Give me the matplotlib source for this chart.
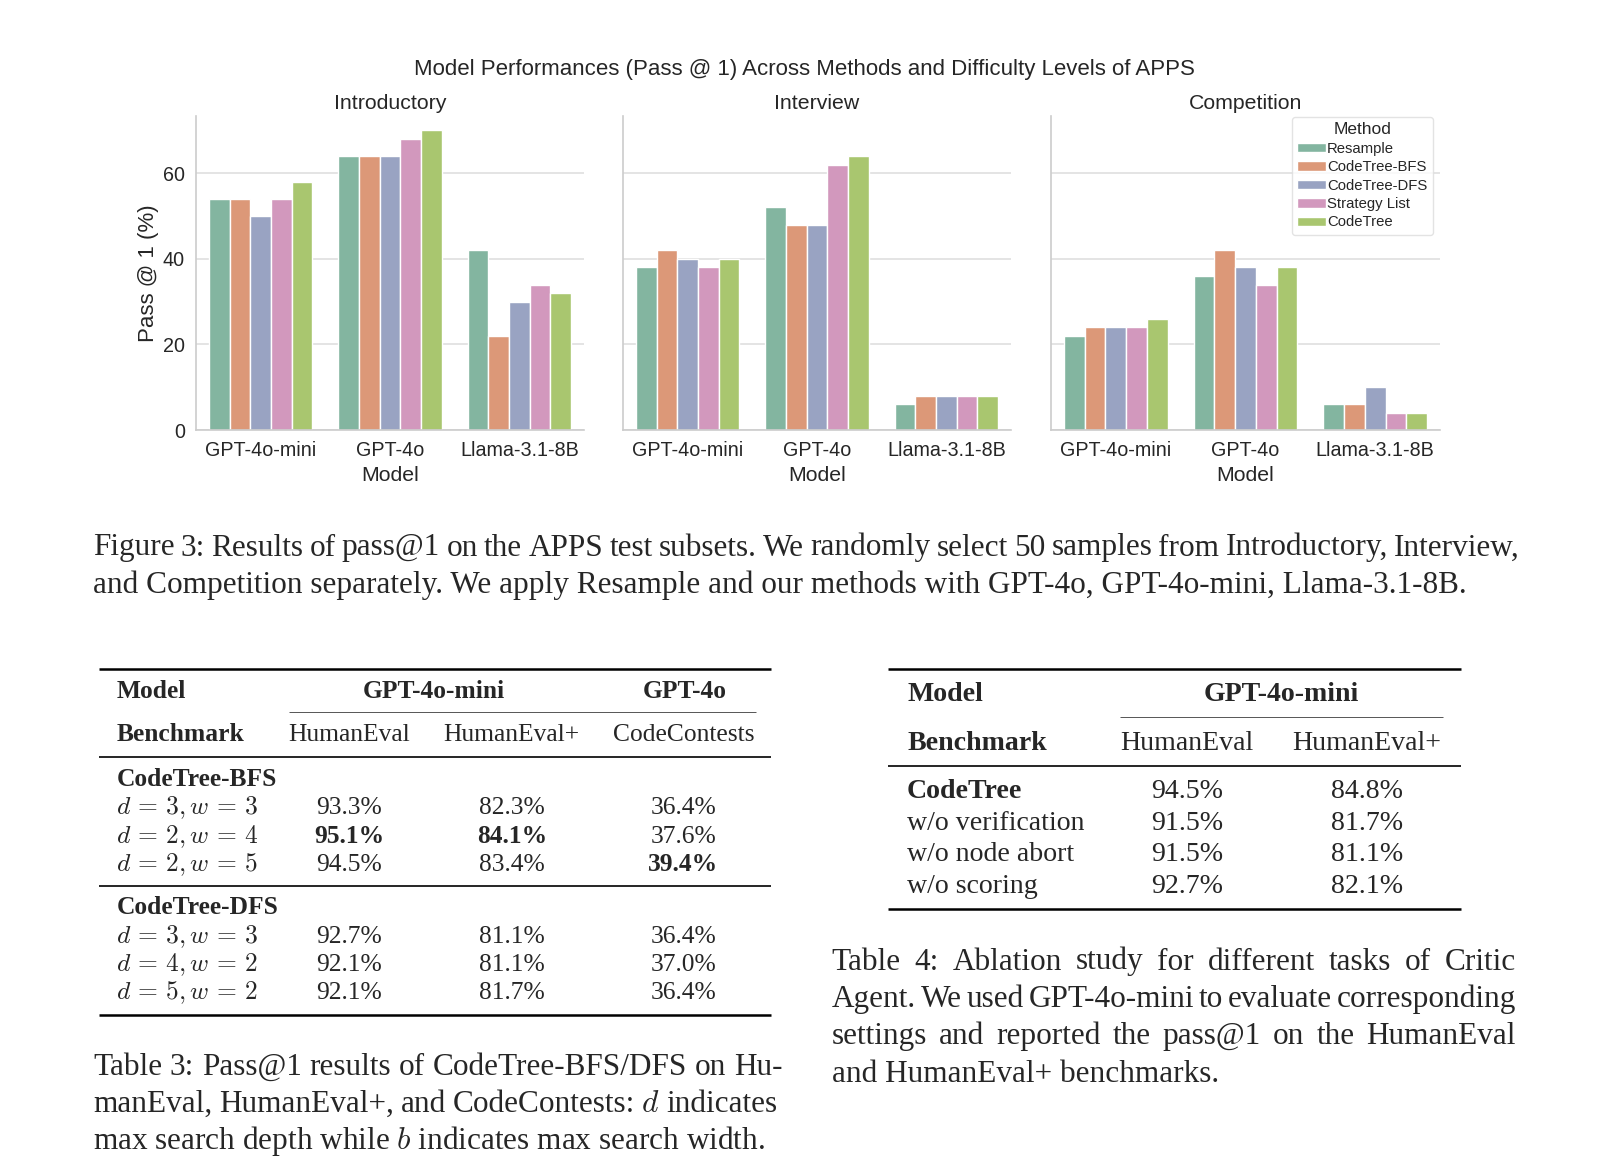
"""APPS pass@1 bar chart (Figure 3) with Tables 3 and 4 underneath, as one page crop."""

import numpy as np
import matplotlib.pyplot as plt
import seaborn as sns

# ── Data ───────────────────────────────────────────────────────────────────────
LEVELS  = ["Introductory", "Interview", "Competition"]
MODELS  = ["GPT-4o-mini", "GPT-4o", "Llama-3.1-8B"]
METHODS = ["Resample", "CodeTree-BFS", "CodeTree-DFS", "Strategy List", "CodeTree"]
COLORS  = ["#83b5a0", "#dc9878", "#99a3c2", "#d298bd", "#a9c66f"]

# pass@1 (%), rows = model, cols = method
INTRODUCTORY = [[54, 54, 50, 54, 58], [64, 64, 64, 68, 70], [42, 22, 30, 34, 32]]
INTERVIEW    = [[38, 42, 40, 38, 40], [52, 48, 48, 62, 64], [6, 8, 8, 8, 8]]
COMPETITION  = [[22, 24, 24, 24, 26], [36, 42, 38, 34, 38], [6, 6, 10, 4, 4]]

# Table 3
T3_COLS     = ["HumanEval", "HumanEval+", "CodeContests"]
T3_BFS_ROWS = [r"$d\,=\,3, w\,=\,3$", r"$d\,=\,2, w\,=\,4$", r"$d\,=\,2, w\,=\,5$"]
T3_BFS      = [[93.3, 82.3, 36.4], [95.1, 84.1, 37.6], [94.5, 83.4, 39.4]]
T3_BFS_BOLD = [(1, 0), (1, 1), (2, 2)]
T3_DFS_ROWS = [r"$d\,=\,3, w\,=\,3$", r"$d\,=\,4, w\,=\,2$", r"$d\,=\,5, w\,=\,2$"]
T3_DFS      = [[92.7, 81.1, 36.4], [92.1, 81.1, 37.0], [92.1, 81.7, 36.4]]

# Table 4
T4_COLS = ["HumanEval", "HumanEval+"]
T4_ROWS = ["CodeTree", "w/o verification", "w/o node abort", "w/o scoring"]
T4_VALS = [[94.5, 84.8], [91.5, 81.7], [91.5, 81.1], [92.7, 82.1]]

SUPTITLE = "Model Performances (Pass @ 1) Across Methods and Difficulty Levels of APPS"
FIG3_CAPTION = [
    "Figure 3: Results of pass@1 on the APPS test subsets. We randomly select 50 samples from Introductory, Interview,",
    "and Competition separately. We apply Resample and our methods with GPT-4o, GPT-4o-mini, Llama-3.1-8B.",
]
T3_CAPTION = [
    "Table 3: Pass@1 results of CodeTree-BFS/DFS on Hu-",
    "manEval, HumanEval+, and CodeContests: $d$ indicates",
    "max search depth while $b$ indicates max search width.",
]
T4_CAPTION = [
    "Table 4:  Ablation study for different tasks of Critic",
    "Agent. We used GPT-4o-mini to evaluate corresponding",
    "settings and reported the pass@1 on the HumanEval",
    "and HumanEval+ benchmarks.",
]

# ── Layout (page pixels) ───────────────────────────────────────────────────────
W, H = 1600, 1160
SERIF = "Liberation Serif"
INK = "#262626"


def px_axes(fig, x0, y0, x1, y1):
    return fig.add_axes([x0 / W, 1 - y1 / H, (x1 - x0) / W, (y1 - y0) / H])


def caption(ax, lines, x0, x1s, y0, step, size):
    """Justified paragraph (one right edge per line), last line left-aligned."""
    r = ax.figure.canvas.get_renderer()
    for k, line in enumerate(lines):
        y = y0 + k * step
        if k == len(lines) - 1:
            ax.text(x0, y, line, family=SERIF, fontsize=size, va="baseline")
            continue
        words = line.split()
        items = [ax.text(0, y, w, family=SERIF, fontsize=size, va="baseline") for w in words]
        widths = [t.get_window_extent(r).width for t in items]
        gap = (x1s[k] - x0 - sum(widths)) / (len(words) - 1)
        x = x0
        for t, w in zip(items, widths):
            t.set_x(x)
            x += w + gap


def rule(ax, x0, x1, y, lw, color="black"):
    ax.plot([x0, x1], [y, y], color=color, lw=lw, solid_capstyle="butt")


def draw_bars(fig):
    boxes = [(196, 115.5, 584, 430), (623, 115.5, 1011, 430), (1051, 115.5, 1440, 430)]
    data = [INTRODUCTORY, INTERVIEW, COMPETITION]
    x = np.arange(len(MODELS))
    bw = 0.8 / len(METHODS)
    axes = []
    for j, (box, level, vals) in enumerate(zip(boxes, LEVELS, data)):
        ax = px_axes(fig, *box)
        vals = np.asarray(vals)
        for i, method in enumerate(METHODS):
            ax.bar(x + (i - 2) * bw, vals[:, i], width=bw, color=COLORS[i],
                   edgecolor="white", linewidth=1.0, label=method, zorder=2)
        ax.set_xlim(-0.5, 2.5)
        ax.set_ylim(0, 73.5)
        ax.set_yticks([0, 20, 40, 60])
        ax.set_xticks(x, MODELS)
        ax.grid(axis="y", color="#dcdcdc", lw=1.1, zorder=0)
        ax.grid(axis="x", visible=False)
        for s in ["top", "right"]:
            ax.spines[s].set_visible(False)
        for s in ["left", "bottom"]:
            ax.spines[s].set_color("#cccccc")
            ax.spines[s].set_linewidth(1.2)
        ax.tick_params(labelsize=14.2, length=0, pad=8, colors=INK)
        ax.set_title(level, fontsize=15.3, pad=5, color=INK)
        ax.set_xlabel("Model", fontsize=15.3, labelpad=4, color=INK)
        if j == 0:
            ax.set_ylabel("Pass @ 1 (%)", fontsize=16, labelpad=3, color=INK)
        else:
            ax.tick_params(labelleft=False)
        axes.append(ax)

    leg = axes[2].legend(title="Method", loc="upper right", bbox_to_anchor=(0.985, 1.0),
                         fontsize=10.7, title_fontsize=12.5, handlelength=2.0,
                         handleheight=0.6, handletextpad=0.05, labelspacing=0.3,
                         borderpad=0.35, borderaxespad=0.1, frameon=True)
    leg.get_frame().set_edgecolor("#dddddd")
    for t in leg.get_texts():
        t.set_color(INK)
    leg.get_title().set_color(INK)
    fig.text(804 / W, 1 - 69.5 / H, SUPTITLE, ha="center", va="center",
             fontsize=16, color=INK)


def draw_table3(ov):
    fs = 18.4
    x0, x1, lx = 99, 771, 116.5
    cx = [349.3, 511.7, 683.3]
    rule(ov, x0, x1, 669, 1.8)
    ov.text(lx, 698, "Model", family=SERIF, weight="bold", fontsize=fs, va="baseline")
    ov.text(434, 698, "GPT-4o-mini", family=SERIF, weight="bold", fontsize=fs, ha="center", va="baseline")
    ov.text(684.4, 698, "GPT-4o", family=SERIF, weight="bold", fontsize=fs, ha="center", va="baseline")
    rule(ov, 289, 756, 712, 0.7, "#555555")
    ov.text(lx, 741, "Benchmark", family=SERIF, weight="bold", fontsize=fs, va="baseline")
    for c, name in zip(cx, T3_COLS):
        ov.text(c, 741, name, family=SERIF, fontsize=fs, ha="center", va="baseline")
    rule(ov, x0, x1, 757, 1.2)

    blocks = [("CodeTree-BFS", T3_BFS_ROWS, T3_BFS, T3_BFS_BOLD, 786),
              ("CodeTree-DFS", T3_DFS_ROWS, T3_DFS, [], 914.5)]
    for name, rows, vals, bold, y0 in blocks:
        ov.text(lx, y0, name, family=SERIF, weight="bold", fontsize=fs, va="baseline")
        for r, (label, row) in enumerate(zip(rows, vals)):
            y = y0 + 28.5 + r * 28.2
            ov.text(lx, y, label, family=SERIF, fontsize=fs, va="baseline")
            for c, v in enumerate(row):
                w = "bold" if (r, c) in bold else "normal"
                ov.text(cx[c], y, f"{v:.1f}%", family=SERIF, weight=w,
                        fontsize=fs, ha="center", va="baseline")
    rule(ov, x0, x1, 885.6, 1.2)
    rule(ov, x0, x1, 1015.3, 1.8)


def draw_table4(ov):
    fs = 20.1
    x0, x1, lx = 887.6, 1460.7, 907
    cx = [1186.9, 1366.7]
    rule(ov, x0, x1, 669, 1.8)
    ov.text(lx, 701, "Model", family=SERIF, weight="bold", fontsize=fs, va="baseline")
    ov.text(1281, 701, "GPT-4o-mini", family=SERIF, weight="bold", fontsize=fs, ha="center", va="baseline")
    rule(ov, 1119.5, 1443.3, 717, 0.7, "#555555")
    ov.text(lx, 750, "Benchmark", family=SERIF, weight="bold", fontsize=fs, va="baseline")
    for c, name in zip(cx, T4_COLS):
        ov.text(c, 750, name, family=SERIF, fontsize=fs, ha="center", va="baseline")
    rule(ov, x0, x1, 766, 1.2)
    for r, (label, row) in enumerate(zip(T4_ROWS, T4_VALS)):
        y = 798 + r * 31.7
        w = "bold" if r == 0 else "normal"
        ov.text(lx, y, label, family=SERIF, weight=w, fontsize=fs, va="baseline")
        for c, v in enumerate(row):
            ov.text(cx[c], y, f"{v:.1f}%", family=SERIF, fontsize=fs, ha="center", va="baseline")
    rule(ov, x0, x1, 909, 1.8)


def main():
    sns.set_theme(style="whitegrid")
    plt.rcParams["font.family"] = ["Liberation Sans", "DejaVu Sans"]
    plt.rcParams["mathtext.fontset"] = "cm"

    fig = plt.figure(figsize=(W / 100, H / 100), dpi=100)
    fig.patch.set_facecolor("white")
    draw_bars(fig)

    ov = fig.add_axes([0, 0, 1, 1])
    ov.set_xlim(0, W)
    ov.set_ylim(H, 0)
    ov.axis("off")

    caption(ov, FIG3_CAPTION, 93, [1520], 555.5, 37.8, 22.5)
    draw_table3(ov)
    draw_table4(ov)
    caption(ov, T3_CAPTION, 93, [782.5, 777.5], 1075, 36.8, 22.5)
    caption(ov, T4_CAPTION, 831.5, [1516, 1516, 1516], 969.5, 37.4, 22.5)

    fig.savefig("out.png", dpi=100, facecolor="white")


if __name__ == "__main__":
    main()
